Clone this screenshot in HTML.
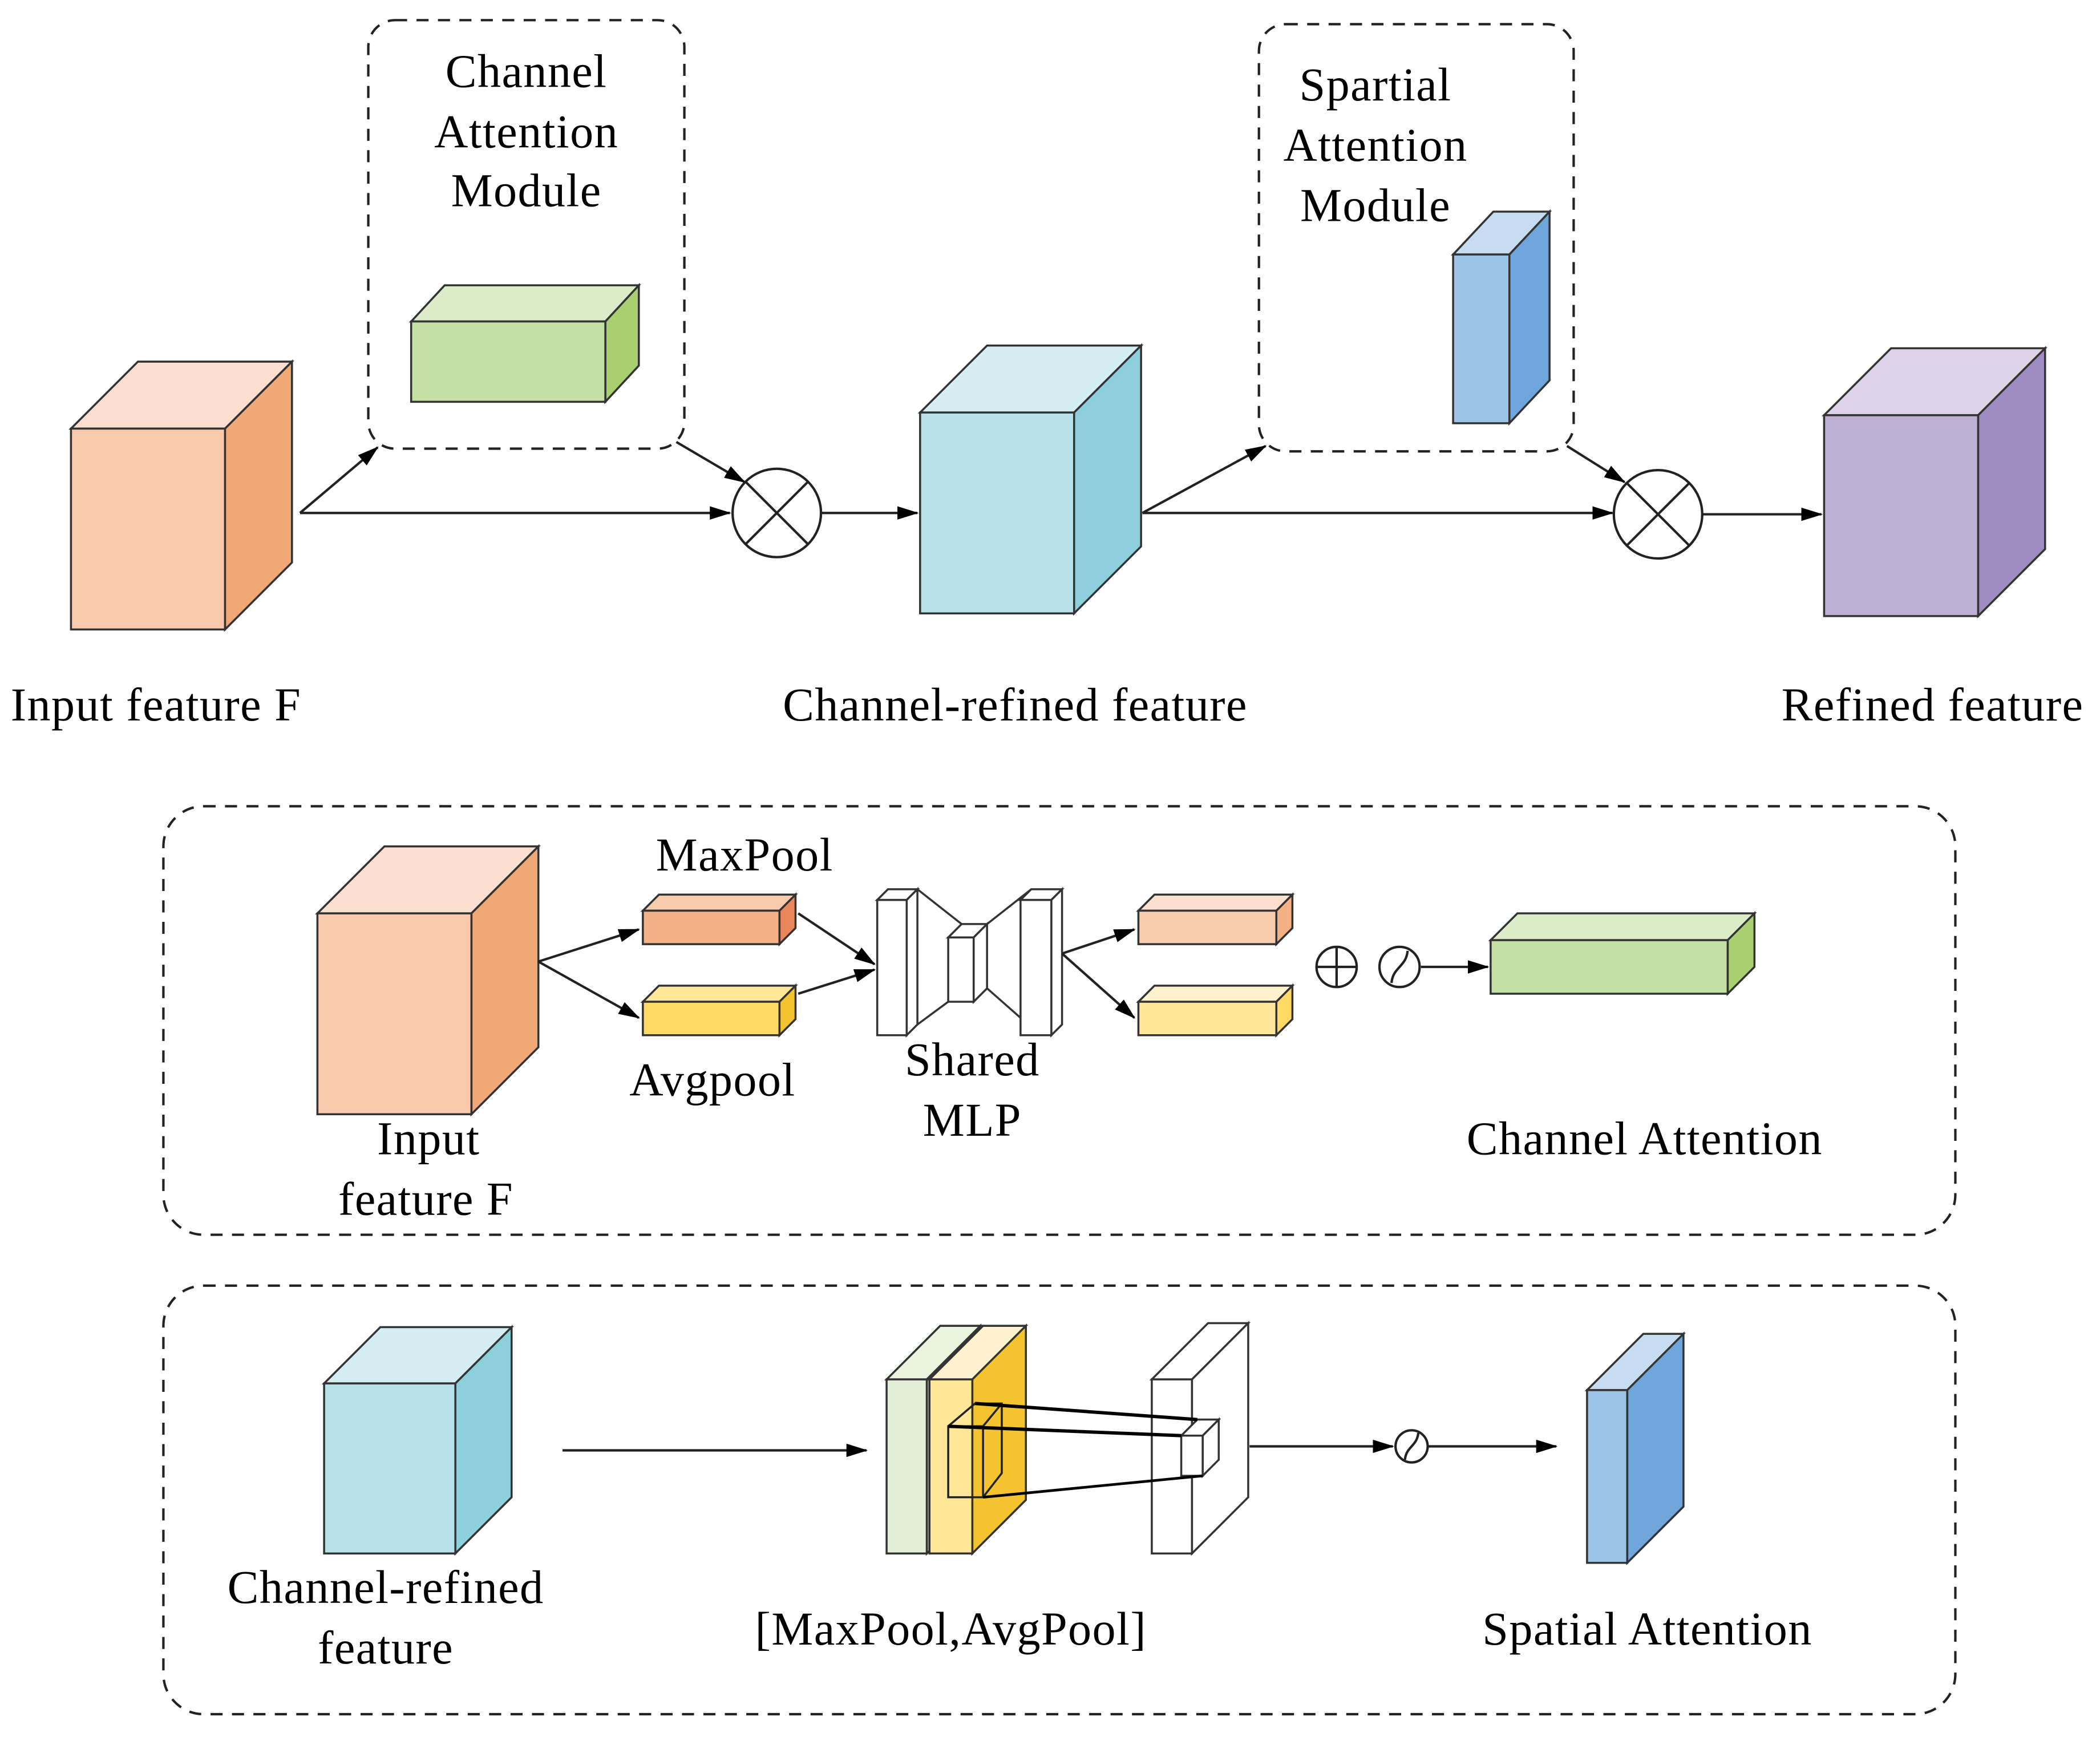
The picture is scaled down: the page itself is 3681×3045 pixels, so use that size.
<!DOCTYPE html>
<html><head><meta charset="utf-8"><style>html,body{margin:0;padding:0;background:#fff}svg{display:block}</style></head><body>
<svg width="3681" height="3045" viewBox="0 0 1568 1297" xmlns="http://www.w3.org/2000/svg" font-family="'Liberation Serif',serif" font-size="35" letter-spacing="0.6" fill="#000">
<defs><marker id="a" markerWidth="16" markerHeight="10" refX="15" refY="5" orient="auto" markerUnits="userSpaceOnUse"><path d="M0,0L16,5L0,10z" fill="#000"/></marker></defs>
<g stroke="#333" stroke-width="1.5">
<polygon points="53,320 103,270 218,270 168,320" fill="#fbe0cf"/><polygon points="168,320 218,270 218,420 168,470" fill="#f0a876"/><rect x="53" y="320" width="115" height="150" fill="#f8c9aa"/>
<polygon points="307,240 332,213 477,213 452,240" fill="#dcebc8"/><polygon points="452,240 477,213 477,273 452,300" fill="#a8d070"/><rect x="307" y="240" width="145" height="60" fill="#c5e0a5"/>
<polygon points="687,308 737,258 852,258 802,308" fill="#d5eef3"/><polygon points="802,308 852,258 852,408 802,458" fill="#8ecfdc"/><rect x="687" y="308" width="115" height="150" fill="#b7e0e8"/>
<polygon points="1085,190 1115,158 1157,158 1127,190" fill="#c6dcf1"/><polygon points="1127,190 1157,158 1157,284 1127,316" fill="#6ea5da"/><rect x="1085" y="190" width="42" height="126" fill="#9dc3e6"/>
<polygon points="1362,310 1412,260 1527,260 1477,310" fill="#dcd3e8"/><polygon points="1477,310 1527,260 1527,410 1477,460" fill="#a08cc0"/><rect x="1362" y="310" width="115" height="150" fill="#bfb0d6"/>
</g>
<g fill="none" stroke="#222" stroke-width="1.8" stroke-dasharray="9,7">
<rect x="275" y="15" width="236" height="320" rx="20"/>
<rect x="940" y="18" width="235" height="319" rx="20"/>
<rect x="122" y="602" width="1338" height="320" rx="30"/>
<rect x="122" y="960" width="1338" height="320" rx="30"/>
</g>
<g stroke="#222" stroke-width="1.8" fill="none">
<line x1="224" y1="383" x2="545" y2="383" marker-end="url(#a)"/>
<line x1="224" y1="383" x2="282" y2="334" marker-end="url(#a)"/>
<line x1="505" y1="330" x2="556" y2="360" marker-end="url(#a)"/>
<line x1="613" y1="383" x2="685" y2="383" marker-end="url(#a)"/>
<line x1="853" y1="383" x2="945" y2="333" marker-end="url(#a)"/>
<line x1="853" y1="383" x2="1204" y2="383" marker-end="url(#a)"/>
<line x1="1170" y1="333" x2="1213" y2="360" marker-end="url(#a)"/>
<line x1="1271" y1="384" x2="1360" y2="384" marker-end="url(#a)"/>
<circle cx="580" cy="383" r="33" fill="#fff"/><line x1="557" y1="360" x2="603" y2="406"/><line x1="603" y1="360" x2="557" y2="406"/>
<circle cx="1238" cy="384" r="33" fill="#fff"/><line x1="1215" y1="361" x2="1261" y2="407"/><line x1="1261" y1="361" x2="1215" y2="407"/>
</g>
<text x="8" y="538">Input feature F</text>
<text x="758" y="538" text-anchor="middle">Channel-refined feature</text>
<text x="1443" y="538" text-anchor="middle">Refined feature</text>
<text x="393" y="65" text-anchor="middle">Channel</text><text x="393" y="110" text-anchor="middle">Attention</text><text x="393" y="154" text-anchor="middle">Module</text>
<text x="1027" y="75" text-anchor="middle">Spartial</text><text x="1027" y="120" text-anchor="middle">Attention</text><text x="1027" y="165" text-anchor="middle">Module</text>
<g stroke="#333" stroke-width="1.5">
<polygon points="237,682 287,632 402,632 352,682" fill="#fbe0cf"/><polygon points="352,682 402,632 402,782 352,832" fill="#f0a876"/><rect x="237" y="682" width="115" height="150" fill="#f8c9aa"/>
<polygon points="480,680 492,668 594,668 582,680" fill="#f8cbad"/><polygon points="582,680 594,668 594,693 582,705" fill="#e9865a"/><rect x="480" y="680" width="102" height="25" fill="#f4b183"/>
<polygon points="480,748 492,736 594,736 582,748" fill="#ffe699"/><polygon points="582,748 594,736 594,761 582,773" fill="#f4c430"/><rect x="480" y="748" width="102" height="25" fill="#ffd966"/>
<polygon points="850,680 862,668 965,668 953,680" fill="#fbe0cf"/><polygon points="953,680 965,668 965,693 953,705" fill="#f4b183"/><rect x="850" y="680" width="103" height="25" fill="#f8cbad"/>
<polygon points="850,748 862,736 965,736 953,748" fill="#fff2cc"/><polygon points="953,748 965,736 965,761 953,773" fill="#ffd966"/><rect x="850" y="748" width="103" height="25" fill="#ffe699"/>
<polygon points="1113,702 1133,682 1310,682 1290,702" fill="#dcebc8"/><polygon points="1290,702 1310,682 1310,722 1290,742" fill="#a8d070"/><rect x="1113" y="702" width="177" height="40" fill="#c5e0a5"/>
<g fill="#fff">
<polygon points="655,672 663,664 685,664 677,672"/><polygon points="677,672 685,664 685,765 677,773"/><rect x="655" y="672" width="22" height="101"/>
<polygon points="708,700 718,690 737,690 727,700"/><polygon points="727,700 737,690 737,738 727,748"/><rect x="708" y="700" width="19" height="48"/>
<polygon points="762,672 770,664 793,664 785,672"/><polygon points="785,672 793,664 793,765 785,773"/><rect x="762" y="672" width="23" height="101"/>
</g>
<line x1="685" y1="664" x2="718" y2="690"/><line x1="685" y1="765" x2="708" y2="748"/><line x1="737" y1="690" x2="770" y2="664"/><line x1="737" y1="738" x2="762" y2="760"/>
</g>
<g stroke="#222" stroke-width="1.8" fill="none">
<line x1="402" y1="718" x2="477" y2="694" marker-end="url(#a)"/>
<line x1="402" y1="718" x2="477" y2="760" marker-end="url(#a)"/>
<line x1="596" y1="682" x2="653" y2="720" marker-end="url(#a)"/>
<line x1="596" y1="742" x2="653" y2="724" marker-end="url(#a)"/>
<line x1="793" y1="712" x2="847" y2="694" marker-end="url(#a)"/>
<line x1="793" y1="712" x2="847" y2="760" marker-end="url(#a)"/>
<circle cx="998" cy="722" r="15"/><line x1="983" y1="722" x2="1013" y2="722"/><line x1="998" y1="707" x2="998" y2="737"/>
<circle cx="1045" cy="722" r="15"/><path d="M1039,734 C1040,722 1050,722 1051,710"/>
<line x1="1061" y1="722" x2="1111" y2="722" marker-end="url(#a)"/>
</g>
<text x="556" y="650" text-anchor="middle">MaxPool</text>
<text x="532" y="818" text-anchor="middle">Avgpool</text>
<text x="726" y="803" text-anchor="middle">Shared</text><text x="726" y="848" text-anchor="middle">MLP</text>
<text x="320" y="862" text-anchor="middle">Input</text><text x="318" y="907" text-anchor="middle">feature F</text>
<text x="1228" y="862" text-anchor="middle">Channel Attention</text>
<g stroke="#333" stroke-width="1.5">
<polygon points="242,1033 284,991 382,991 340,1033" fill="#d5eef3"/><polygon points="340,1033 382,991 382,1118 340,1160" fill="#8ecfdc"/><rect x="242" y="1033" width="98" height="127" fill="#b7e0e8"/>
<polygon points="662,1030 702,990 732,990 692,1030" fill="#eaf3e0"/><polygon points="692,1030 732,990 732,1120 692,1160" fill="#c5e0a5"/><rect x="662" y="1030" width="30" height="130" fill="#e2efd6"/>
<polygon points="694,1030 734,990 766,990 726,1030" fill="#fff2cc"/><polygon points="726,1030 766,990 766,1120 726,1160" fill="#f4c430"/><rect x="694" y="1030" width="32" height="130" fill="#ffe699"/>
<polygon points="860,1030 902,988 932,988 890,1030" fill="#fff"/><polygon points="890,1030 932,988 932,1118 890,1160" fill="#fff"/><rect x="860" y="1030" width="30" height="130" fill="#fff"/>
<g fill="none" stroke="#222" stroke-width="1.5">
<rect x="708" y="1065" width="26" height="53"/><polyline points="708,1065 728,1048 748,1048 748,1100 734,1118"/><line x1="734" y1="1065" x2="748" y2="1048"/>
</g>
<polygon points="882,1072 894,1060 910,1060 898,1072" fill="#fff"/><polygon points="898,1072 910,1060 910,1090 898,1102" fill="#fff"/><rect x="882" y="1072" width="16" height="30" fill="#fff"/>
<line x1="728" y1="1048" x2="894" y2="1060" stroke="#000" stroke-width="2.5"/>
<line x1="708" y1="1065" x2="882" y2="1072" stroke="#000" stroke-width="2.5"/>
<line x1="734" y1="1118" x2="898" y2="1102" stroke="#000" stroke-width="2"/>
<polygon points="1185,1038 1227,996 1257,996 1215,1038" fill="#c6dcf1"/><polygon points="1215,1038 1257,996 1257,1125 1215,1167" fill="#6ea5da"/><rect x="1185" y="1038" width="30" height="129" fill="#9dc3e6"/>
</g>
<g stroke="#222" stroke-width="1.8" fill="none">
<line x1="420" y1="1083" x2="647" y2="1083" marker-end="url(#a)"/>
<line x1="933" y1="1080" x2="1040" y2="1080" marker-end="url(#a)"/>
<circle cx="1054" cy="1080" r="12"/><path d="M1049,1090 C1050,1080 1058,1080 1059,1070"/>
<line x1="1066" y1="1080" x2="1162" y2="1080" marker-end="url(#a)"/>
</g>
<text x="288" y="1197" text-anchor="middle">Channel-refined</text><text x="288" y="1242" text-anchor="middle">feature</text>
<text x="710" y="1228" text-anchor="middle">[MaxPool,AvgPool]</text>
<text x="1230" y="1228" text-anchor="middle">Spatial Attention</text>
</svg>
</body></html>
